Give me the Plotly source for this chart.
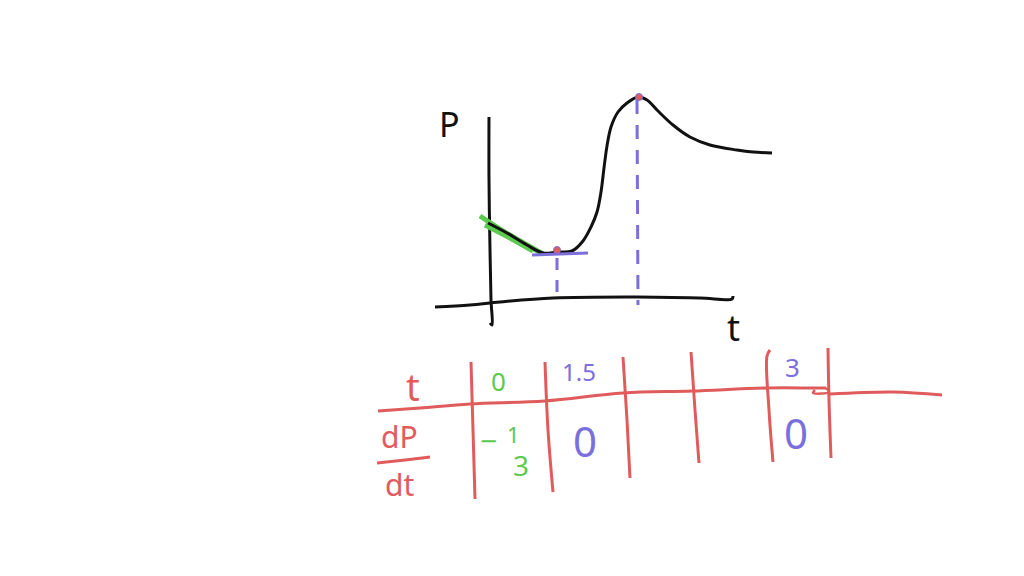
import plotly.graph_objects as go

# -- coordenadas del boceto (pixeles de la pagina, y hacia abajo)
# ejes del grafico P(t)
eje_p_x = [489, 489, 490, 491, 492, 490]
eje_p_y = [117, 180, 250, 300, 325, 323]
eje_t_x = [435, 470, 500, 553, 637, 700, 732, 733]
eje_t_y = [307, 305, 302, 298, 297, 298, 299, 296]

# curva P(t)
curva_x = [488, 507, 527, 543, 557, 572, 583, 591, 597, 601, 604, 607, 611, 618, 627, 638,
           647, 657, 673, 690, 710, 737, 753, 772]
curva_y = [223, 233, 245, 253, 252, 251, 241, 227, 212, 192, 168, 146, 127, 112, 103, 97,
           100, 110, 125, 137, 145, 150, 152, 153]

# tangente en t=0 (verde)
tang1_x = [480, 500, 520, 543]
tang1_y = [216, 229, 241, 254]
tang2_x = [485, 510, 533]
tang2_y = [225, 238, 251]

# tangente horizontal y lineas punteadas (morado)
horiz_x = [532, 560, 588]
horiz_y = [255, 254, 253]
punt1_x = [557, 557]
punt1_y = [258, 297]
punt2_x = [637, 638]
punt2_y = [100, 305]
puntos_x = [557, 639]
puntos_y = [250, 97]

# tabla
fila_x = [378, 420, 470, 545, 623, 692, 767, 812, 826]
fila_y = [411, 408, 404, 401, 393, 391, 388, 388, 388]
gancho_x = [826, 829, 813, 815]
gancho_y = [388, 392, 393, 390]
fila2_x = [830, 893, 942]
fila2_y = [394, 392, 395]
columnas = [([471, 473, 475], [362, 430, 499]),
            ([545, 548, 553], [362, 430, 492]),
            ([623, 627, 630], [357, 420, 478]),
            ([691, 695, 699], [352, 410, 463]),
            ([770, 767, 769, 773], [350, 356, 410, 462]),
            ([828, 829, 831], [348, 400, 458])]
barra_x = [377, 405, 430]
barra_y = [463, 460, 457]

# valores de la tabla
t_valores = ['0', '1.5', '3']
t_pos_x = [498, 579, 792]
t_pos_y = [381, 371, 367]
t_colores = ['#5cc94f', '#7b6fdc', '#7b6fdc']
dpdt_valores = ['0', '0']
dpdt_pos_x = [585, 796]
dpdt_pos_y = [440, 432]

NEGRO = '#111111'
ROJO = '#e05c5c'
VERDE = '#5cc94f'
MORADO = '#7b6fdc'
FUENTE = 'Noto Sans'
MARGEN = 8  # margen del body de la pagina


def trazo(fig, x, y, color, ancho, dash='solid'):
    fig.add_trace(go.Scatter(x=x, y=y, mode='lines', line_shape='spline',
                             line=dict(color=color, width=ancho, dash=dash),
                             hoverinfo='skip', showlegend=False))


fig = go.Figure()

# -- grafico
trazo(fig, eje_p_x, eje_p_y, NEGRO, 3)
trazo(fig, eje_t_x, eje_t_y, NEGRO, 3)
trazo(fig, tang1_x, tang1_y, VERDE, 5)
trazo(fig, tang2_x, tang2_y, VERDE, 5)
trazo(fig, curva_x, curva_y, NEGRO, 3)
trazo(fig, horiz_x, horiz_y, MORADO, 3)
trazo(fig, punt1_x, punt1_y, MORADO, 3, dash='12px,10px')
trazo(fig, punt2_x, punt2_y, MORADO, 3, dash='14px,11px')
fig.add_trace(go.Scatter(x=puntos_x, y=puntos_y, mode='markers',
                         marker=dict(color=ROJO, size=7, line=dict(color=MORADO, width=1)),
                         hoverinfo='skip', showlegend=False))

# -- tabla
trazo(fig, fila_x, fila_y, ROJO, 3)
trazo(fig, gancho_x, gancho_y, ROJO, 2.5)
trazo(fig, fila2_x, fila2_y, ROJO, 3)
for cx, cy in columnas:
    trazo(fig, cx, cy, ROJO, 3)
trazo(fig, barra_x, barra_y, ROJO, 3)


# -- textos
def texto(x, y, t, color, size):
    fig.add_annotation(x=x, y=y, text=t, showarrow=False,
                       font=dict(family=FUENTE, size=size, color=color))


texto(449, 124, 'P', NEGRO, 34)
texto(733, 327, 't', NEGRO, 36)
texto(413, 386, 't', ROJO, 38)
texto(399, 436, 'dP', ROJO, 30)
texto(399, 484, 'dt', ROJO, 30)
for v, px, py, c in zip(t_valores, t_pos_x, t_pos_y, t_colores):
    texto(px, py, v, c, 26 if v != '1.5' else 24)
texto(488, 440, '−', VERDE, 30)
texto(513, 434, '1', VERDE, 22)
texto(521, 465, '3', VERDE, 28)
for v, px, py in zip(dpdt_valores, dpdt_pos_x, dpdt_pos_y):
    texto(px, py, v, MORADO, 42)

fig.update_layout(width=1024 - MARGEN, height=576 - MARGEN,
                  margin=dict(l=0, r=0, t=0, b=0),
                  paper_bgcolor='white', plot_bgcolor='white',
                  xaxis=dict(range=[MARGEN, 1024], visible=False, fixedrange=True),
                  yaxis=dict(range=[576, MARGEN], visible=False, fixedrange=True))

fig.write_html("out.html")
